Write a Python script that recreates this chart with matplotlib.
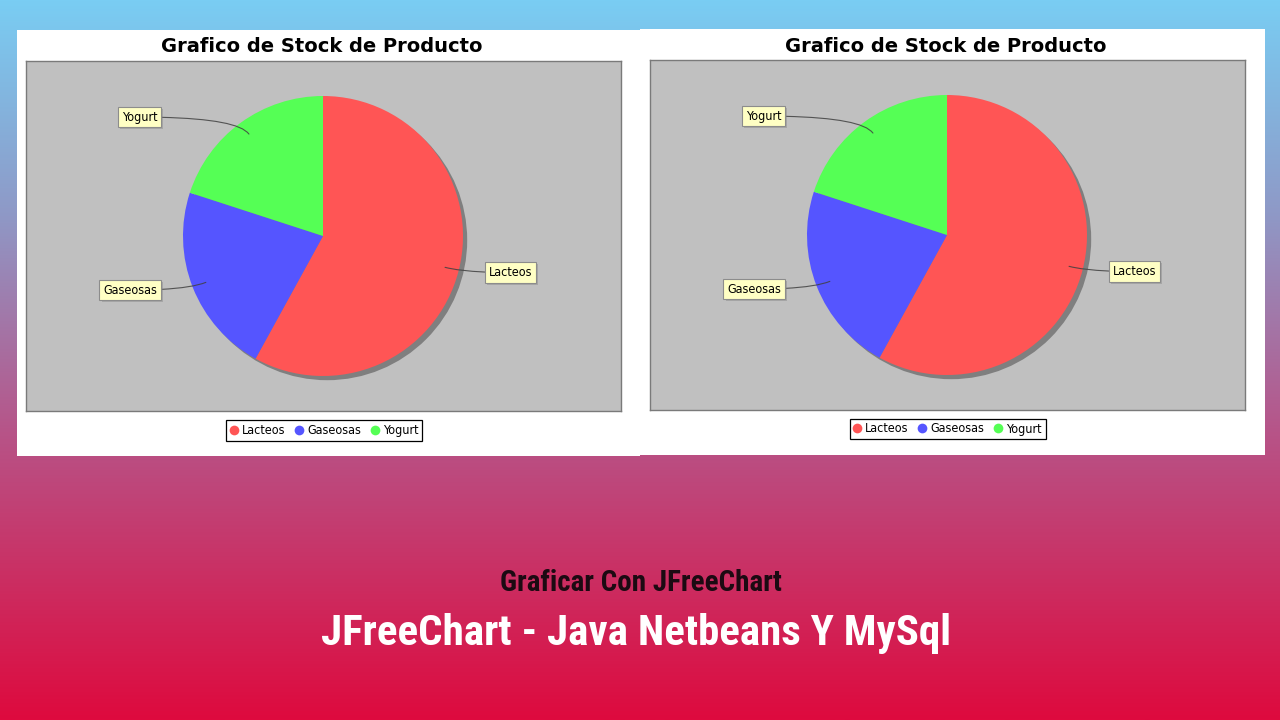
import numpy as np
import matplotlib
matplotlib.use('Agg')
import matplotlib.pyplot as plt
from matplotlib import font_manager
from matplotlib.colors import LinearSegmentedColormap
from matplotlib.patches import Rectangle, Circle
from matplotlib.lines import Line2D
import matplotlib.patheffects as pe

# datos del grafico (mismos en las dos capturas)
categorias = ['Lacteos', 'Gaseosas', 'Yogurt']
stock = [58, 22, 20]
colores = ['#FF5555', '#5555FF', '#55FF55']
titulo = 'Grafico de Stock de Producto'
subtitulo = 'Graficar Con JFreeChart'
titulo_video = 'JFreeChart - Java Netbeans Y MySql'

W, H = 1280, 720
R = 140.0  # radio del pie en pixeles

# cajas en pixeles de cada captura
paneles = [
    dict(panel=(17, 30, 640, 456), plot=(26, 61, 621, 411), cx=323, tit=(322, 47), ley=(324, 430.5)),
    dict(panel=(640, 29, 1265, 455), plot=(650, 60, 1245, 410), cx=947, tit=(946, 46), ley=(947.5, 429)),
]

disponibles = {f.name for f in font_manager.fontManager.ttflist}
fuente_banner = 'Roboto Condensed' if 'Roboto Condensed' in disponibles else 'Roboto'


def px_axes(fig, x0, y0, x1, y1):
    return fig.add_axes([x0 / W, 1 - y1 / H, (x1 - x0) / W, (y1 - y0) / H])


fig = plt.figure(figsize=(12.8, 7.2), dpi=100)

# fondo degradado
bg = fig.add_axes([0, 0, 1, 1])
bg.axis('off')
cmap = LinearSegmentedColormap.from_list(
    'fondo', [(0, '#79cdf3'), (0.3, '#8f98c6'), (0.6, '#b75488'), (1.0, '#de0a3e')])
grad = np.linspace(0, 1, 256).reshape(-1, 1)
bg.imshow(grad, aspect='auto', cmap=cmap, extent=[0, W, H, 0])
bg.set_xlim(0, W)
bg.set_ylim(H, 0)

for p in paneles:
    x0, y0, x1, y1 = p['panel']
    bg.add_patch(Rectangle((x0, y0), x1 - x0, y1 - y0, fc='white', ec='none'))
    bg.text(p['tit'][0], p['tit'][1], titulo, ha='center', va='center',
            fontsize=14, weight='bold', family='DejaVu Sans', color='black')

    px0, py0, px1, py1 = p['plot']
    ax = px_axes(fig, px0, py0, px1, py1)
    wedges, _ = ax.pie(stock, colors=colores, startangle=90, counterclock=False,
                       radius=1, wedgeprops=dict(linewidth=0))
    ax.add_patch(Circle((0.03, -0.03), 1, fc='#7f7f7f', ec='none', zorder=0.5))
    ax.set_frame_on(True)
    ax.set_facecolor('#C0C0C0')
    for s in ax.spines.values():
        s.set_color('#7a7a7a')
        s.set_linewidth(1)
    ax.set_xticks([])
    ax.set_yticks([])
    ax.set_aspect('auto')
    ax.set_xlim(-(p['cx'] - px0) / R, (px1 - p['cx']) / R)
    hy = (py1 - py0) / 2 / R
    ax.set_ylim(-hy, hy)

    # etiquetas con linea curva al estilo JFreeChart
    for w, cat in zip(wedges, categorias):
        mid = (w.theta1 + w.theta2) / 2
        a = np.deg2rad(mid)
        xy = (0.9 * np.cos(a), 0.9 * np.sin(a))
        lado = 1 if np.cos(a) > 0 else -1
        ann = ax.annotate(
            cat, xy=xy, xytext=(lado * 1.185, 1.05 * np.sin(a)),
            ha='left' if lado > 0 else 'right', va='center',
            fontsize=9, family='DejaVu Sans', fontstretch='condensed', color='black',
            bbox=dict(boxstyle='square,pad=0.3', fc='#FFFFC4', ec='#8c8c8c', lw=0.8),
            arrowprops=dict(arrowstyle='-', color='#404040', lw=0.8, alpha=0.85,
                            shrinkA=0, shrinkB=0,
                            connectionstyle=f'angle3,angleA=0,angleB={mid:.2f}'))
        ann.get_bbox_patch().set_path_effects(
            [pe.SimplePatchShadow(offset=(1.5, -1.5), shadow_rgbFace='#808080', alpha=0.4),
             pe.Normal()])

    handles = [Line2D([], [], marker='o', ls='', markersize=7,
                      markerfacecolor=c, markeredgecolor='none') for c in colores]
    leg = fig.legend(handles, categorias, loc='center',
                     bbox_to_anchor=(p['ley'][0] / W, 1 - p['ley'][1] / H),
                     ncol=3, frameon=True, fancybox=False, edgecolor='black',
                     framealpha=1, handlelength=0.6, handletextpad=0.35,
                     columnspacing=0.8, borderpad=0.3, borderaxespad=0,
                     prop={'family': 'DejaVu Sans', 'stretch': 'condensed', 'size': 9})
    leg.get_frame().set_linewidth(0.9)

# textos del banner inferior
bg.text(641, 583, subtitulo, ha='center', va='center', fontsize=21,
        weight='bold', family=fuente_banner, color='#1c0a12')
bg.text(636, 633, titulo_video, ha='center', va='center', fontsize=31,
        weight='bold', family=fuente_banner, color='white')

fig.savefig('out.png', dpi=100)
